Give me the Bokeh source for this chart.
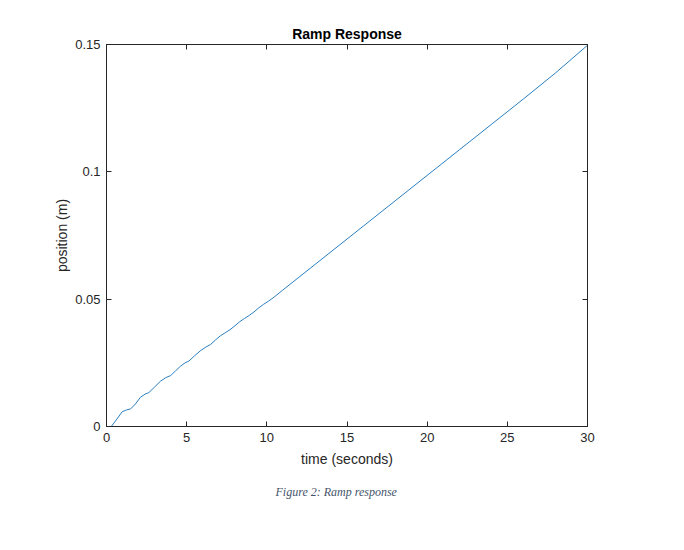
from bokeh.plotting import figure
from bokeh.models import LinearAxis, FixedTicker, Range1d, Title
from bokeh.embed import file_html
from bokeh.resources import INLINE

# data
time_s = [0, 0.3, 0.6, 0.98, 1.25, 1.5, 1.8, 2.12, 2.4, 2.64, 3.0, 3.37, 3.7, 4.0, 4.3,
          4.62, 4.9, 5.14, 5.5, 5.87, 6.2, 6.49, 6.8, 7.1, 7.4, 7.7, 8.0, 8.3, 8.6, 8.9,
          9.2, 9.5, 9.8, 10.1, 10.45, 11, 12, 14, 16, 18, 20, 22, 24, 26, 28, 30]
position_m = [0, 0, 0.0025, 0.0058, 0.0065, 0.0069, 0.0088, 0.0115, 0.0127, 0.0133,
              0.0155, 0.0178, 0.0192, 0.0200, 0.0218, 0.0237, 0.0250, 0.0257, 0.0278,
              0.0298, 0.0312, 0.0322, 0.0340, 0.0356, 0.0368, 0.0380, 0.0395, 0.0411,
              0.0424, 0.0436, 0.0450, 0.0466, 0.0480, 0.0492, 0.0508, 0.0536, 0.0586,
              0.0686, 0.0786, 0.0886, 0.0986, 0.1086, 0.1186, 0.1286, 0.1388, 0.1497]

x_ticks = [0, 5, 10, 15, 20, 25, 30]
y_ticks = [0, 0.05, 0.1, 0.15]
y_tick_labels = ["0", "0.05", "0.1", "0.15"]

title_text = "Ramp Response"
x_label = "time (seconds)"
y_label = "position (m)"
caption = "Figure 2: Ramp response"

FONT = "Liberation Sans"
AX = "#262626"

p = figure(width=668, height=534, output_backend="svg", toolbar_location=None,
           x_range=Range1d(0, 30), y_range=Range1d(0, 0.15),
           frame_width=481, frame_height=382,
           min_border_left=106, min_border_right=81, min_border_top=44, min_border_bottom=108,
           title=title_text, x_axis_label=x_label, y_axis_label=y_label)

p.title.align = "center"
p.title.text_font = FONT
p.title.text_font_size = "14px"
p.title.text_font_style = "bold"
p.title.text_color = "#000000"
p.title.offset = 0
p.title.standoff = 5

p.background_fill_color = "white"
p.border_fill_color = "white"
p.outline_line_color = AX
p.outline_line_width = 1
p.xgrid.visible = False
p.ygrid.visible = False

p.line(time_s, position_m, line_color="#2a7fc0", line_width=1)

def style(ax, labels=True):
    ax.axis_line_color = AX
    ax.major_tick_line_color = AX
    ax.major_tick_in = 5
    ax.major_tick_out = 0
    ax.minor_tick_line_color = None
    ax.major_label_text_font = FONT
    ax.major_label_text_font_size = "13px"
    ax.major_label_text_color = AX
    ax.axis_label_text_font = FONT
    ax.axis_label_text_font_size = "14px"
    ax.axis_label_text_font_style = "normal"
    ax.axis_label_text_color = AX
    if not labels:
        ax.major_label_text_font_size = "0px"
        ax.major_label_standoff = 0

xa = p.xaxis[0]
xa.ticker = FixedTicker(ticks=x_ticks)
style(xa)
xa.major_label_standoff = 6
xa.axis_label_standoff = 6

ya = p.yaxis[0]
ya.ticker = FixedTicker(ticks=y_ticks)
ya.major_label_overrides = {t: l for t, l in zip(y_ticks, y_tick_labels)}
style(ya)
ya.major_label_standoff = 6
ya.axis_label_standoff = 2

top = LinearAxis(ticker=FixedTicker(ticks=x_ticks))
style(top, labels=False)
top.major_label_overrides = {t: "" for t in x_ticks}
p.add_layout(top, "above")

right = LinearAxis(ticker=FixedTicker(ticks=y_ticks))
style(right, labels=False)
right.major_label_overrides = {t: "" for t in y_ticks}
p.add_layout(right, "right")

cap = Title(text=caption, align="left", text_font="Liberation Serif",
            text_font_style="italic", text_font_size="12px", text_color="#44546A",
            standoff=27, offset=169)
p.add_layout(cap, "below")

open("out.html", "w").write(file_html(p, INLINE))
